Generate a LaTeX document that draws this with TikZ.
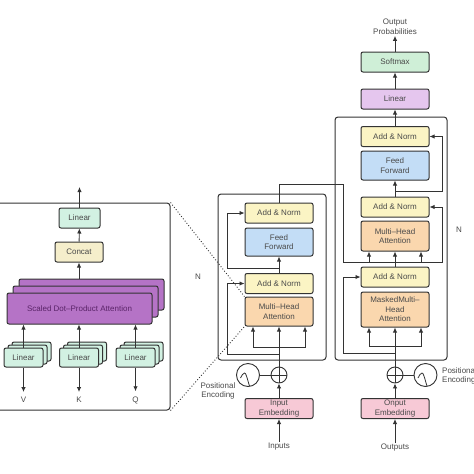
\documentclass[tikz,border=0pt]{standalone}
\usepackage{fontspec}
\setmainfont{Liberation Sans}
\usetikzlibrary{arrows.meta}

\definecolor{cLine}{HTML}{333333}
\definecolor{cText}{HTML}{4A4A4A}
\definecolor{cNorm}{HTML}{FBF4C4}
\definecolor{cConcat}{HTML}{F5EECB}
\definecolor{cFF}{HTML}{C3DDF6}
\definecolor{cAttn}{HTML}{FAD7AE}
\definecolor{cLinG}{HTML}{D2F1E2}
\definecolor{cSoft}{HTML}{CFEFD7}
\definecolor{cLinP}{HTML}{E5C6EE}
\definecolor{cSDPA}{HTML}{B573C6}
\definecolor{cSDPAtext}{HTML}{5A2468}
\definecolor{cEmb}{HTML}{F7C9D6}

\def\dX{26pt}

\tikzset{
  box/.style={draw=cLine, line width=1pt, rounded corners=2pt, align=center, text=cText,
    font=\fontsize{8}{9.6}\selectfont, minimum width=68, minimum height=20, inner sep=1pt},
  norm/.style={box, fill=cNorm},
  ffwd/.style={box, fill=cFF},
  attn/.style={box, fill=cAttn},
  emb/.style={box, fill=cEmb},
  soft/.style={box, fill=cSoft},
  linp/.style={box, fill=cLinP},
  ling/.style={box, fill=cLinG},
  lingsmall/.style={ling, minimum width=39, minimum height=19},
  concatbox/.style={box, fill=cConcat, minimum width=48},
  sdpa/.style={box, fill=cSDPA, text=cSDPAtext, minimum width=145, minimum height=31},
  outer/.style={draw=cLine, line width=1pt, rounded corners=3pt},
  conn/.style={draw=cLine, line width=0.9pt},
  arr/.style={conn, -{Latex[length=5pt,width=4.5pt]}},
  dotline/.style={conn, dotted},
  lbl/.style={text=cText, font=\fontsize{8}{9.6}\selectfont, inner sep=1pt, align=center},
  addop/.style={circle, draw=cLine, line width=0.9pt, fill=white, minimum size=16, inner sep=0pt,
    path picture={\draw[cLine, line width=0.9pt]
      (path picture bounding box.north) -- (path picture bounding box.south)
      (path picture bounding box.west) -- (path picture bounding box.east);}},
  posenc/.style={circle, draw=cLine, line width=0.9pt, fill=white, minimum size=23, inner sep=0pt,
    path picture={\draw[cLine, line width=0.8pt]
      ([xshift=4pt,yshift=-3pt]path picture bounding box.west) sin ++(4,-5) cos ++(3.5,8) sin ++(3.5,8) cos ++(4,-5);}},
}

\begin{document}
\begin{tikzpicture}[x=1pt, y=-1pt]
    \useasboundingbox (0,0) rectangle (474,474);
    \fill[white] (0,0) rectangle (474,474);

    %% frames
    \node[outer, minimum width=190, minimum height=207] (mhaBox) at (75,306.5) {};
    \node[outer, minimum width=108, minimum height=166] (encBox) at (272,277) {};
    \node[outer, minimum width=112, minimum height=243] (decBox) at (391,238.5) {};

    %% multi-head attention detail
    \node[ling, minimum width=41] (mhaLin) at (79.5,218) {Linear};
    \node[concatbox]              (concat) at (79,252)   {Concat};
    \node[sdpa] (sdpaC) at (91.5,294.5) {};
    \node[sdpa] (sdpaB) at (85.5,301.5) {};
    \node[sdpa] (sdpa)  at (79.5,308.5) {Scaled Dot--Product Attention};

    \node[lingsmall] (linV3) at (31.5,351.5) {};
    \node[lingsmall] (linV2) at (27.5,354.5) {};
    \node[lingsmall] (linV)  at (23.5,357.5) {Linear};
    \node[lingsmall] (linK3) at (87,351.5)   {};
    \node[lingsmall] (linK2) at (83,354.5)   {};
    \node[lingsmall] (linK)  at (79,357.5)   {Linear};
    \node[lingsmall] (linQ3) at (143.5,351.5) {};
    \node[lingsmall] (linQ2) at (139.5,354.5) {};
    \node[lingsmall] (linQ)  at (135.5,357.5) {Linear};

    \node[lbl] (labV) at (23.5,400) {V};
    \node[lbl] (labK) at (79,400)   {K};
    \node[lbl] (labQ) at (135.5,400) {Q};
    \coordinate (mhaOut) at (79.5,187);

    %% encoder
    \node[norm]                     (encAN2) at (279,213)   {Add \& Norm};
    \node[ffwd, minimum height=28]  (encFF)  at (279,242)   {Feed\\Forward};
    \node[norm]                     (encAN1) at (279,283.5) {Add \& Norm};
    \node[attn, minimum height=29]  (encMHA) at (279,311.5) {Multi--Head\\Attention};
    \node[addop]                    (encAdd) at (279,375)   {};
    \node[posenc]                   (encPE)  at (248,375)   {};
    \node[emb]                      (encEmb) at (279,408.5) {Input\\Embedding};
    \node[lbl] (encPEtext) at (218,391) {Positional\\Encoding};
    \node[lbl] (inputs)    at (279,447) {Inputs};
    \node[lbl] (encN)      at (198,277) {N};

    %% decoder
    \node[lbl]                      (outProb) at (395,27)    {Output\\Probabilities};
    \node[soft]                     (softmax) at (395,62)    {Softmax};
    \node[linp]                     (decLin)  at (395,99)    {Linear};
    \node[norm]                     (decAN3)  at (395,136.5) {Add \& Norm};
    \node[ffwd, minimum height=29]  (decFF)   at (395,165.5) {Feed\\Forward};
    \node[norm]                     (decAN2)  at (395,207)   {Add \& Norm};
    \node[attn, minimum height=30]  (decMHA2) at (395,236)   {Multi--Head\\Attention};
    \node[norm]                     (decAN1)  at (395,277)   {Add \& Norm};
    \node[attn, minimum height=35]  (decMMHA) at (395,309.5) {MaskedMulti--\\Head\\Attention};
    \node[addop]                    (decAdd)  at (395,375)   {};
    \node[posenc]                   (decPE)   at (425.5,375) {};
    \node[emb]                      (decEmb)  at (395,408.5) {Onput\\Embedding};
    \node[lbl, align=left, anchor=west] (decPEtext) at (441,376) {Positional\\Encoding};
    \node[lbl] (outputs) at (395,448) {Outputs};
    \node[lbl] (decN)    at (459,230) {N};

    %% helper points
    \coordinate (encSplit) at (279,347);
    \coordinate (encRes1)  at (279,354);
    \coordinate (encRes2)  at (279,268);
    \coordinate (encL)     at (227,0);
    \coordinate (encTop)   at (279,184);
    \coordinate (decKV)    at (343,262);
    \coordinate (decL)     at (343,0);
    \coordinate (decR)     at (442,0);
    \coordinate (decSplit) at (395,346);
    \coordinate (decRes1)  at (395,353);
    \coordinate (decRes2)  at (395,262);
    \coordinate (decRes3)  at (395,191);

    %% detail connectors
    \draw[arr] (mhaLin) -- (mhaOut);
    \draw[arr] (concat) -- (mhaLin);
    \draw[arr] (concat |- sdpaC.north) -- (concat);
    \draw[arr] (linV.north) -- (linV |- sdpa.south);
    \draw[arr] (linK.north) -- (linK |- sdpa.south);
    \draw[arr] (linQ.north) -- (linQ |- sdpa.south);
    \draw[arr, shorten >=4pt] (linV) -- (labV);
    \draw[arr, shorten >=4pt] (linK) -- (labK);
    \draw[arr, shorten >=4pt] (linQ) -- (labQ);
    \draw[dotline] (mhaBox.north east) -- (encMHA.north west);
    \draw[dotline] (mhaBox.south east) -- (encMHA.south west);

    %% encoder connectors
    \draw[arr] (inputs) -- (encEmb);
    \draw[arr] (encEmb) -- (encAdd);
    \draw[conn] (encPE) -- (encAdd);
    \draw[arr] (encAdd) -- (encMHA);
    \draw[arr] (encSplit) -| ([xshift=-\dX]encMHA.south);
    \draw[arr] (encSplit) -| ([xshift=\dX]encMHA.south);
    \draw[arr] (encRes1) -| (encL |- encAN1.west) -- (encAN1.west);
    \draw[arr] (encAN1) -- (encFF);
    \draw[arr] (encRes2) -| (encL |- encAN2.west) -- (encAN2.west);
    \draw[conn] (encAN2) -- (encTop) -| (decKV) -- (decRes2);
    \draw[arr] (decKV) -| ([xshift=-\dX]decMHA2.south);

    %% decoder connectors
    \draw[arr] (outputs) -- (decEmb);
    \draw[arr] (decEmb) -- (decAdd);
    \draw[conn] (decAdd) -- (decPE);
    \draw[arr] (decAdd) -- (decMMHA);
    \draw[arr] (decSplit) -| ([xshift=-\dX]decMMHA.south);
    \draw[arr] (decSplit) -| ([xshift=\dX]decMMHA.south);
    \draw[arr] (decRes1) -| (decL |- decAN1.west) -- (decAN1.west);
    \draw[arr] (decAN1) -- (decMHA2);
    \draw[arr] (decRes2) -| ([xshift=\dX]decMHA2.south);
    \draw[arr] (decRes2) -| (decR |- decAN2.east) -- (decAN2.east);
    \draw[arr] (decAN2) -- (decFF);
    \draw[arr] (decRes3) -| (decR |- decAN3.east) -- (decAN3.east);
    \draw[arr] (decAN3) -- (decLin);
    \draw[arr] (decLin) -- (softmax);
    \draw[arr] (softmax) -- (outProb);

\end{tikzpicture}
\end{document}
